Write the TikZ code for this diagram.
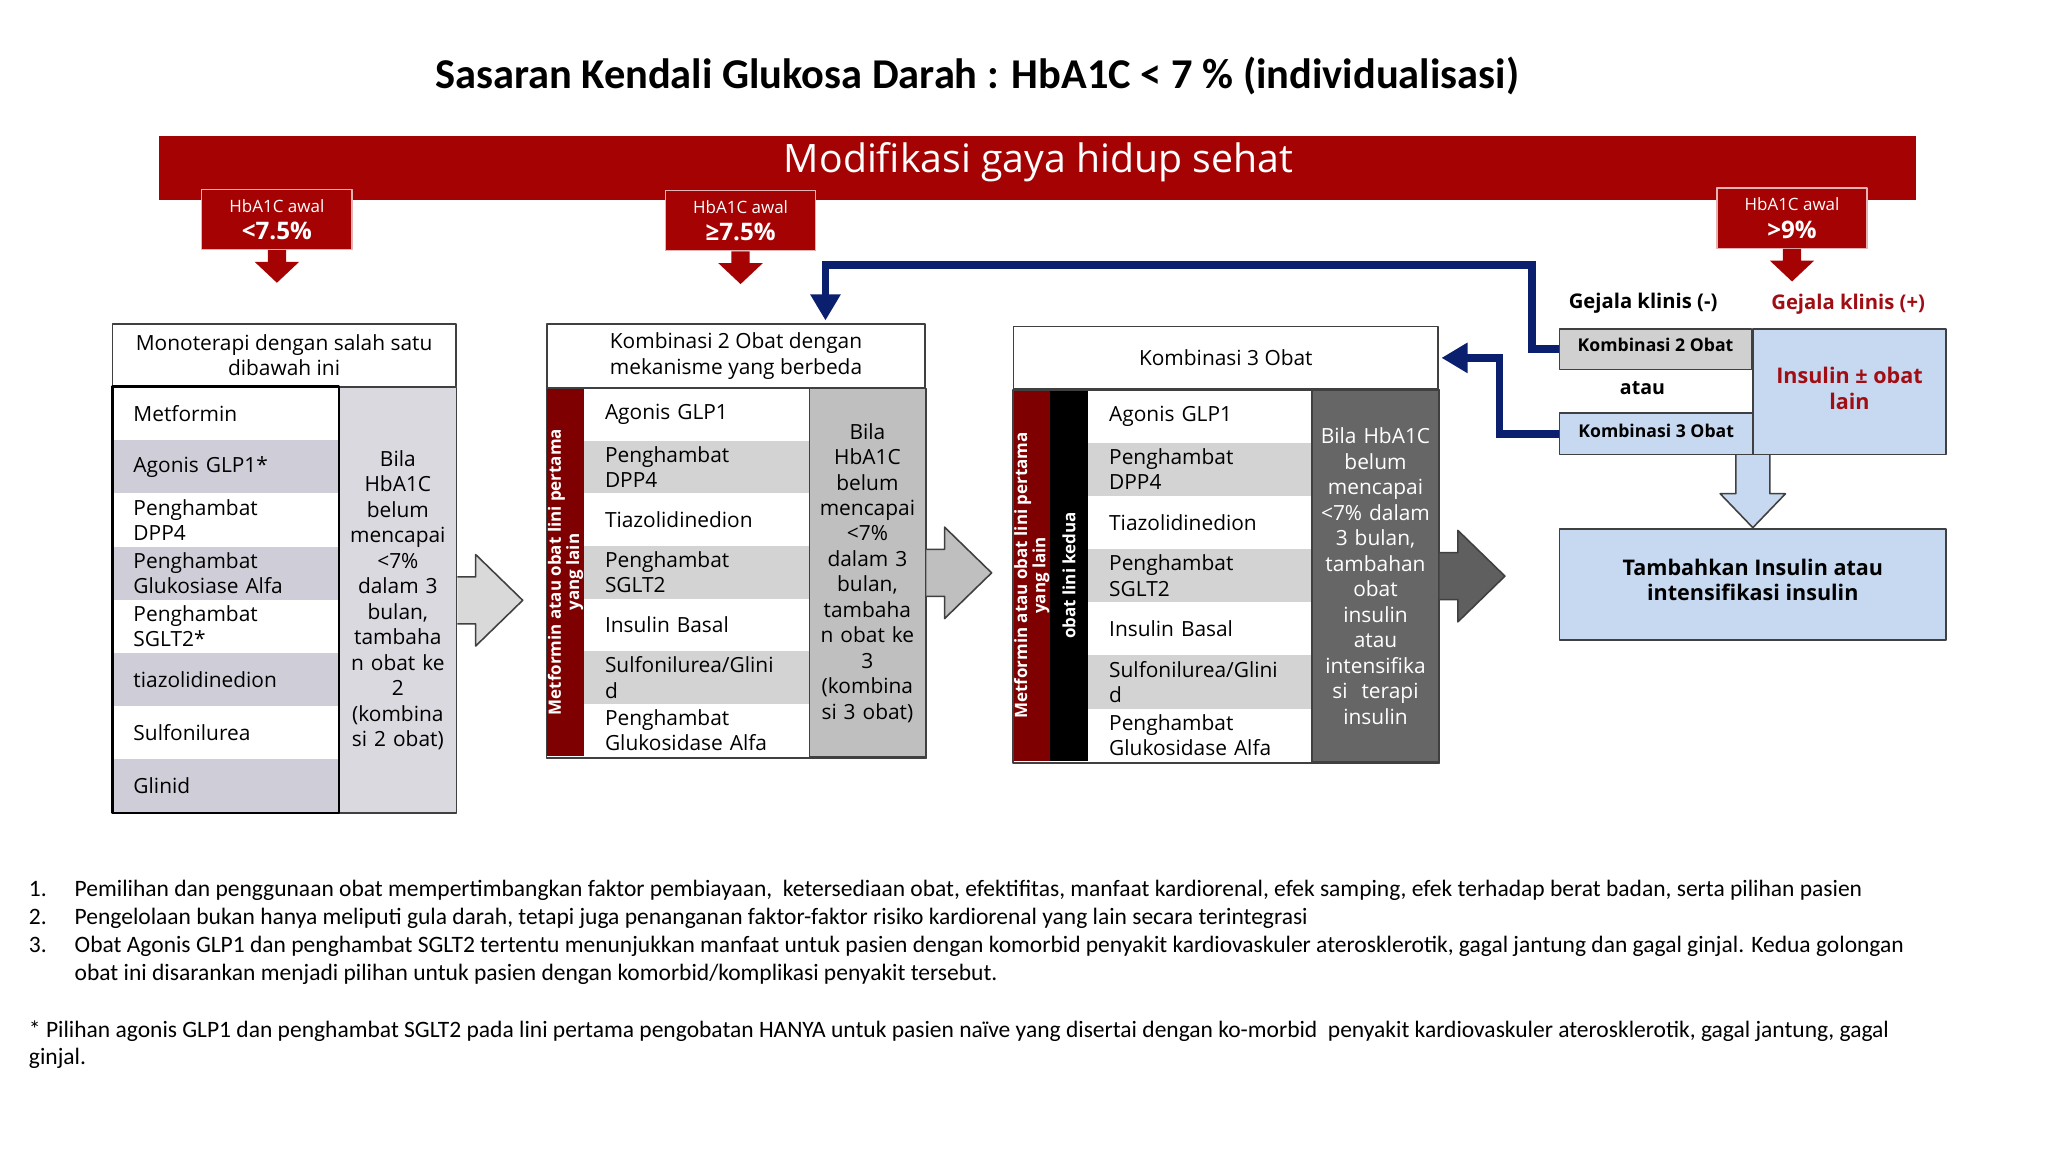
\documentclass[tikz,border=0pt]{standalone}
\usepackage{fontspec}
\setmainfont{Open Sans}
\newfontfamily\calibri{Carlito}
\usetikzlibrary{arrows.meta,calc,positioning}

\definecolor{bannerred}{RGB}{165,3,3}
\definecolor{stripred}{RGB}{127,0,0}
\definecolor{boxline}{RGB}{64,64,64}
\definecolor{rowA}{RGB}{207,206,216}
\definecolor{colA}{RGB}{218,217,223}
\definecolor{rowB}{RGB}{211,211,211}
\definecolor{colB}{RGB}{191,191,191}
\definecolor{colC}{RGB}{102,102,102}
\definecolor{arrA}{RGB}{217,217,217}
\definecolor{arrC}{RGB}{95,95,95}
\definecolor{navy}{RGB}{10,31,110}
\definecolor{paleblue}{RGB}{198,217,240}
\definecolor{klingrey}{RGB}{208,208,208}
\definecolor{plusred}{RGB}{160,14,20}

\begin{document}
\begin{tikzpicture}[x=1pt, y=-1pt, line join=round, font=\fontsize{16}{19.5}\selectfont,
    box/.style={draw=boxline, line width=1.2pt, fill=white, inner sep=0pt, align=center},
    row/.style={anchor=north west, inner xsep=16pt, inner ysep=0pt, align=left},
    col/.style={anchor=north west, draw=boxline, line width=1.2pt, inner sep=0pt, align=center},
    strip/.style={rotate=90, inner sep=0pt, align=center, text=white, font=\bfseries\fontsize{13}{14}\selectfont},
    awal/.style={fill=bannerred, draw=white!70!bannerred, line width=1pt, text=white, align=center,
        minimum width=115pt, minimum height=46pt, inner sep=0pt, font=\fontsize{13}{21}\selectfont},
    blockarrow/.style={draw=boxline, line width=1.2pt},
    navyline/.style={draw=navy, line width=6pt, line join=miter, -{Triangle[length=20pt, width=22pt]}, shorten >=2pt},
    note/.style={anchor=base west, inner sep=0pt, font=\calibri\fontsize{18}{21.5}\selectfont}]
    \useasboundingbox (0,0) rectangle (1568,882);
    \fill[white] (0,0) rectangle (1568,882);

    \node[font=\calibri\bfseries\fontsize{32.5}{38}\selectfont] (title) at (748,58)
        {Sasaran Kendali Glukosa Darah : HbA1C < 7 \% (individualisasi)};

    \node[fill=bannerred, minimum width=1345pt, minimum height=49pt, inner sep=0pt] (banner) at (794.5,128.5) {};
    \node[text=white, font=\fontsize{30}{36}\selectfont] (gaya) at (795,124.5) {Modifikasi gaya hidup sehat};

    \foreach \x/\y/\lvl [count=\i] in {212/168/{<7.5\%}, 567/169/{≥7.5\%}, 1372/167/{>9\%}}
    {
        \node[awal] (awal\i) at (\x,\y) {HbA1C awal\\{\bfseries\fontsize{18.5}{20}\selectfont \lvl}};
        \fill[bannerred] (awal\i.south) ++(-7,0) -- ++(0,9) -- ++(-10,0) -- ++(17,16)
            -- ++(17,-16) -- ++(-10,0) -- ++(0,-9) -- cycle;
    }

    % monoterapi
    \node[box, minimum width=263pt, minimum height=48pt] (head1) at (217.5,272) {Monoterapi dengan salah satu\\dibawah ini};
    \foreach \txt/\c [count=\i] in {Metformin/white, Agonis GLP1*/rowA, {Penghambat\\DPP4}/white,
        {Penghambat\\Glukosiase Alfa}/rowA, {Penghambat\\SGLT2*}/white, tiazolidinedion/rowA,
        Sulfonilurea/white, Glinid/rowA}
        \node[row, fill=\c, text width=141pt, minimum height=40.75pt] (mono\i) at (86,{296+(\i-1)*40.75}) {\txt};
    \node[col, fill=colA, text width=90pt, minimum height=326pt] (c1) at (259,296)
        {Bila\\HbA1C\\belum\\mencapai\\<7\%\\dalam 3\\bulan,\\tambaha\\n obat ke\\2\\(kombina\\si 2 obat)};
    \draw[black, line width=1.8pt] (mono1.north west) rectangle (mono8.south east);

    % kombinasi 2 obat
    \node[box, minimum width=289pt, minimum height=49pt] (head2) at (563.5,272.5) {Kombinasi 2 Obat dengan\\mekanisme yang berbeda};
    \node[strip, fill=stripred, minimum width=282pt, minimum height=28pt] (s2) at (433,438)
        {Metformin atau obat lini pertama\\yang lain};
    \foreach \txt/\c [count=\i] in {Agonis GLP1/white, {Penghambat\\DPP4}/rowB, Tiazolidinedion/white,
        {Penghambat\\SGLT2}/rowB, Insulin Basal/white, {Sulfonilurea/Glini\\d}/rowB,
        {Penghambat\\Glukosidase Alfa}/white}
        \node[row, fill=\c, text width=140pt, minimum height=40.29pt] (duo\i) at (447,{297+(\i-1)*40.29}) {\txt};
    \node[col, fill=colB, text width=89pt, minimum height=282pt] (c2) at (619,297)
        {Bila\\HbA1C\\belum\\mencapai\\<7\%\\dalam 3\\bulan,\\tambaha\\n obat ke\\3\\(kombina\\si 3 obat)};
    \draw[boxline, line width=1.2pt] (head2.south west) rectangle (c2.south east);

    % kombinasi 3 obat
    \node[box, minimum width=325pt, minimum height=48pt] (head3) at (938.5,274) {Kombinasi 3 Obat};
    \node[strip, fill=stripred, minimum width=285pt, minimum height=28pt] (s3) at (790,440.5)
        {Metformin atau obat lini pertama\\yang lain};
    \node[strip, fill=black, minimum width=285pt, minimum height=29pt] (s4) at (818.5,440.5) {obat lini kedua};
    \foreach \txt/\c [count=\i] in {Agonis GLP1/white, {Penghambat\\DPP4}/rowB, Tiazolidinedion/white,
        {Penghambat\\SGLT2}/rowB, Insulin Basal/white, {Sulfonilurea/Glini\\d}/rowB,
        {Penghambat\\Glukosidase Alfa}/white}
        \node[row, fill=\c, text width=139pt, minimum height=40.71pt] (tri\i) at (833,{298+(\i-1)*40.71}) {\txt};
    \node[col, fill=colC, text=white, text width=97pt, minimum height=285pt] (c3) at (1004,298)
        {Bila HbA1C\\belum\\mencapai\\<7\% dalam\\3 bulan,\\tambahan\\obat\\insulin\\atau\\intensifika\\si\ \ terapi\\insulin};
    \draw[boxline, line width=1.2pt] (head3.south west) rectangle (c3.south east);

    \foreach \n/\f in {1/arrA, 2/colB, 3/arrC}
        \draw[blockarrow, fill=\f] (c\n.east) ++(0,-18) -- ++(14,0) -- ++(0,-17) -- ++(36,35)
            -- ++(-36,35) -- ++(0,-17) -- ++(-14,0);

    % HbA1C > 9%
    \node[font=\bfseries\fontsize{15.5}{18}\selectfont] (gneg) at (1258,232) {Gejala klinis (-)};
    \node[font=\bfseries\fontsize{15.5}{18}\selectfont, text=plusred] (gpos) at (1415,233) {Gejala klinis (+)};
    \draw[blockarrow, fill=paleblue] (1329,348) -- ++(0,30) -- ++(-12,0) -- ++(25,26) -- ++(25,-26)
        -- ++(-12,0) -- ++(0,-30);
    \node[box, fill=klingrey, minimum width=147pt, minimum height=31pt, text depth=7pt,
        font=\bfseries\fontsize{13.5}{16}\selectfont] (kom2) at (1267.5,267.5) {Kombinasi 2 Obat};
    \node[font=\bfseries\fontsize{15}{18}\selectfont] (atau) at (1257.5,297) {atau};
    \node[box, fill=paleblue, minimum width=148pt, minimum height=32pt, text depth=4pt,
        font=\bfseries\fontsize{13.5}{16}\selectfont] (kom3) at (1268,332) {Kombinasi 3 Obat};
    \node[box, fill=paleblue, minimum width=148pt, minimum height=96pt, text=plusred, text depth=6pt,
        font=\bfseries\fontsize{16.5}{20}\selectfont] (insl) at (1416,300) {Insulin ± obat\\lain};
    \node[box, fill=paleblue, minimum width=296pt, minimum height=85pt, text depth=7pt,
        font=\bfseries\fontsize{16.5}{19.5}\selectfont] (tamb) at (1342,447.5) {Tambahkan Insulin atau\\intensifikasi insulin};

    \coordinate (t1) at (1173,203);
    \coordinate (t2) at (632,203);
    \coordinate (t3) at (1148,274);
    \draw[navyline] (kom2.west) -| (t1) -- (t2) -- (t2 |- head2.north);
    \draw[navyline] (kom3.west) -| (t3) -- (head3.east);

    % catatan
    \foreach \y/\nr/\txt [count=\i] in {
        686/1./{Pemilihan dan penggunaan obat mempertimbangkan faktor pembiayaan,\ \ ketersediaan obat, efektifitas, manfaat kardiorenal, efek samping, efek terhadap berat badan, serta pilihan pasien},
        708/2./{Pengelolaan bukan hanya meliputi gula darah, tetapi juga penanganan faktor-faktor risiko kardiorenal yang lain secara terintegrasi},
        729/3./{Obat Agonis GLP1 dan penghambat SGLT2 tertentu menunjukkan manfaat untuk pasien dengan komorbid penyakit kardiovaskuler aterosklerotik, gagal jantung dan gagal ginjal. Kedua golongan}}
    {
        \node[note] (nr\i) at (22,\y) {\nr};
        \node[note] (fn\i) at (57,\y) {\txt};
    }
    \node[note] (fn4) at (57,751) {obat ini disarankan menjadi pilihan untuk pasien dengan komorbid/komplikasi penyakit tersebut.};
    \node[note] (star) at (22,794) {* Pilihan agonis GLP1 dan penghambat SGLT2 pada lini pertama pengobatan HANYA untuk pasien naïve yang disertai dengan ko-morbid\ \ penyakit kardiovaskuler aterosklerotik, gagal jantung, gagal};
    \node[note] (star2) at (22,815) {ginjal.};
\end{tikzpicture}
\end{document}
